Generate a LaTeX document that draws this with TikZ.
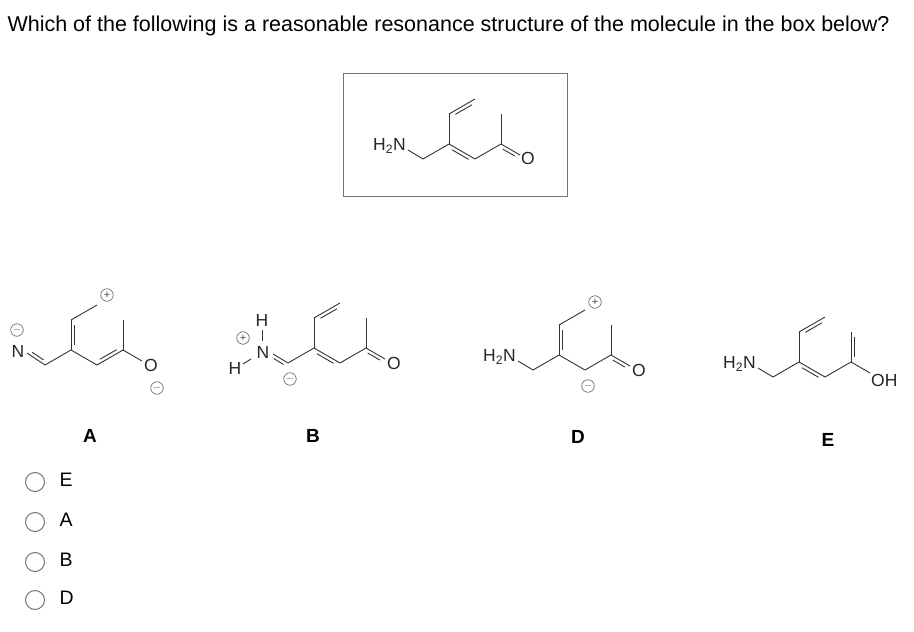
\documentclass[tikz,border=0pt]{standalone}
\usepackage{fontspec}
\setmainfont{Liberation Sans}
\usetikzlibrary{calc}
\tikzset{
  bond/.style={line width=0.9pt, draw=black!80},
  atom/.style={font=\fontsize{17.5}{17.5}\selectfont, inner sep=0pt, text=black!85},
  chg/.style={circle, draw=black!65, line width=0.6pt, inner sep=0pt, minimum size=12.5pt, font=\fontsize{11}{11}\selectfont, text=black!70},
  lab/.style={font=\bfseries\fontsize{19}{19}\selectfont},
  opt/.style={circle, draw=black!55, line width=1pt, minimum size=19pt, inner sep=0pt},
  optlab/.style={font=\fontsize{19.5}{19.5}\selectfont, anchor=west}
}
\newcommand\dbl[3]{\draw[bond] (#1)--(#2); \draw[bond] ($(#1)!0.18!(#2)!#3!90:(#2)$)--($(#2)!0.18!(#1)!#3!-90:(#1)$);}
\newcommand\sgl[2]{\draw[bond] (#1)--(#2);}
\newcommand\skel{%
  \coordinate (nb) at (-15,-9); \coordinate (c1) at (0,0); \coordinate (c2) at (26,-15);
  \coordinate (c3) at (26,-45); \coordinate (v) at (52,-60); \coordinate (c4) at (52,0);
  \coordinate (c5) at (78,-15); \coordinate (me) at (78,-45); \coordinate (ob) at (97,-4);}
\begin{document}
\begin{tikzpicture}[x=1pt,y=-1pt]
\useasboundingbox (0,0) rectangle (914,632);
\fill[white] (0,0) rectangle (914,632);
\node[anchor=west, font=\fontsize{21.5}{21.5}\selectfont] (title) at (4,26) {Which of the following is a reasonable resonance structure of the molecule in the box below?};
\draw[black!55, line width=1pt] (343,73) rectangle (567,196);
% box molecule
\begin{scope}[shift={(423,159)}]
\skel
\node[atom, anchor=east] (n0) at (-17,-13) {H\textsubscript{2}N};
\sgl{nb}{c1}\sgl{c1}{c2}\sgl{c2}{c3}\dbl{v}{c3}{3.5pt}\dbl{c2}{c4}{-3.5pt}\sgl{c4}{c5}\sgl{c5}{me}\dbl{c5}{ob}{-3.5pt}
\node[atom] (o0) at (105,-1) {O};
\end{scope}
% A
\begin{scope}[shift={(45,365)}]
\skel
\node[atom] (na) at (-27,-14) {N};
\coordinate (nba) at (-18,-12);
\dbl{nba}{c1}{3.5pt}\sgl{c1}{c2}\dbl{c2}{c3}{-3.5pt}\sgl{c3}{v}\sgl{c2}{c4}\dbl{c4}{c5}{3.5pt}\sgl{c5}{me}\sgl{c5}{ob}
\node[atom] (oa) at (106,0) {O};
\node[chg] (ca1) at (-28,-35) {$-$};
\node[chg] (ca2) at (62,-70) {+};
\node[chg] (ca3) at (112,23) {$-$};
\end{scope}
\node[lab] (la) at (90,436) {A};
% B
\begin{scope}[shift={(288,363)}]
\skel
\node[atom] (nbb) at (-25,-11) {N};
\node[atom] (hb1) at (-26,-43) {H};
\node[atom] (hb2) at (-53,5) {H};
\draw[bond] (-26,-33)--(-26,-22);
\draw[bond] (-45,1)--(-37,-4);
\dbl{nb}{c1}{-3.5pt}\sgl{c1}{c2}\sgl{c2}{c3}\dbl{v}{c3}{3.5pt}\dbl{c2}{c4}{-3.5pt}\sgl{c4}{c5}\sgl{c5}{me}\dbl{c5}{ob}{-3.5pt}
\node[atom] (ob1) at (106,0) {O};
\node[chg] (cb1) at (-45,-25) {+};
\node[chg] (cb2) at (2,16) {$-$};
\end{scope}
\node[lab] (lb) at (313,436) {B};
% D
\begin{scope}[shift={(533,370)}]
\skel
\node[atom, anchor=east] (nd) at (-17,-13) {H\textsubscript{2}N};
\sgl{nb}{c1}\sgl{c1}{c2}\dbl{c2}{c3}{-3.5pt}\sgl{c3}{v}\sgl{c2}{c4}\sgl{c4}{c5}\sgl{c5}{me}\dbl{c5}{ob}{-3.5pt}
\node[atom] (od) at (106,0) {O};
\node[chg] (cd1) at (62,-68) {+};
\node[chg] (cd2) at (55,16) {$-$};
\end{scope}
\node[lab] (ld) at (578,437) {D};
% E
\begin{scope}[shift={(773,377)}]
\skel
\node[atom, anchor=east] (ne) at (-17,-13) {H\textsubscript{2}N};
\sgl{nb}{c1}\sgl{c1}{c2}\sgl{c2}{c3}\dbl{v}{c3}{3.5pt}\dbl{c2}{c4}{-3.5pt}\sgl{c4}{c5}\dbl{c5}{me}{-3.5pt}\sgl{c5}{ob}
\node[atom, anchor=west] (oe) at (98,3) {OH};
\end{scope}
\node[lab] (le) at (828,440) {E};
% options
\foreach \y/\t [count=\i] in {482/E,522/A,562/B,600/D}{
  \node[opt] (r\i) at (35,\y) {};
  \node[optlab] (t\i) at (56,\y-2) {\t};
}
\end{tikzpicture}
\end{document}
